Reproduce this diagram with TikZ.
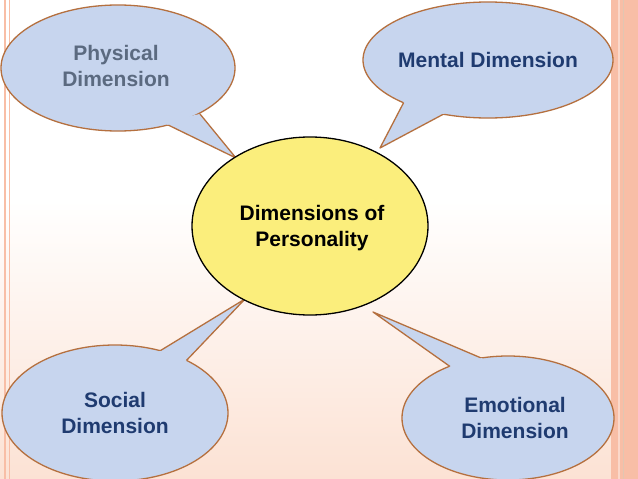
\documentclass[tikz,border=0pt]{standalone}
\usepackage{fontspec}
\setmainfont{Liberation Sans}
\definecolor{bubfill}{HTML}{C7D5EE}
\definecolor{bubline}{HTML}{B5703F}
\definecolor{txtblue}{HTML}{1F3B70}
\definecolor{txtgrey}{HTML}{5B6A80}
\definecolor{yel}{HTML}{FBEE7C}
\definecolor{band}{HTML}{F8BEA6}
\definecolor{bgbot}{HTML}{FCE2D4}
\tikzset{
  bub/.style={fill=bubfill},
  bubedge/.style={draw=bubline,line width=1.3pt},
  lbl/.style={font=\fontsize{21}{25.5}\selectfont\bfseries,align=center,text=txtblue}
}
\newcommand{\bubble}[7]{%
 \fill[bub] #5 -- #6 -- #7 -- cycle;
 \fill[bub] (#1,#2) ellipse ({#3} and {#4});
 \draw[bubedge] (#1,#2) ellipse ({#3} and {#4});
 \fill[bub] #5 -- #6 -- #7 -- cycle;
 \begin{scope}[even odd rule]
  \clip (-20,-20) rectangle (700,520) (#1,#2) ellipse ({#3} and {#4});
  \draw[bubedge,line join=round] #5 -- #6 -- #7;
 \end{scope}
}
\begin{document}
\begin{tikzpicture}[x=1pt,y=-1pt]
\useasboundingbox (0,0) rectangle (638,479);
\fill[white] (0,0) rectangle (638,479);
\shade[top color=white,bottom color=bgbot] (0,200) rectangle (638,479);
\fill[band] (611,0) rectangle (638,479);
\draw[white!40!band,line width=2pt] (619,0) -- (619,479);
\draw[bubline!40,line width=0.8pt] (623,0) -- (623,479);
\draw[band,line width=1.2pt] (5,0) -- (5,479);
\draw[band,line width=0.8pt] (9,0) -- (9,479);
% Physical
\bubble{118}{68}{117}{63}{(162,122)}{(236,158)}{(200,114)}
% Mental
\bubble{488}{60}{125}{58}{(405,100)}{(380,148)}{(455,108)}
% Social
\bubble{115}{413}{113}{68}{(145,360)}{(245,299)}{(185,362)}
% Emotional
\bubble{508}{418}{106}{62}{(455,370)}{(373,312)}{(500,366)}
% centre
\filldraw[fill=yel,draw=black,line width=1.3pt] (310,226) ellipse (118 and 89);
\node[lbl,text=txtgrey] (phys) at (116,66) {Physical\\Dimension};
\node[lbl] (ment) at (488,60) {Mental Dimension};
\node[lbl,text=black] (cent) at (312,228) {Dimensions of\\Personality};
\node[lbl] (soc) at (115,413) {Social\\Dimension};
\node[lbl] (emo) at (515,418) {Emotional\\Dimension};
\end{tikzpicture}
\end{document}
